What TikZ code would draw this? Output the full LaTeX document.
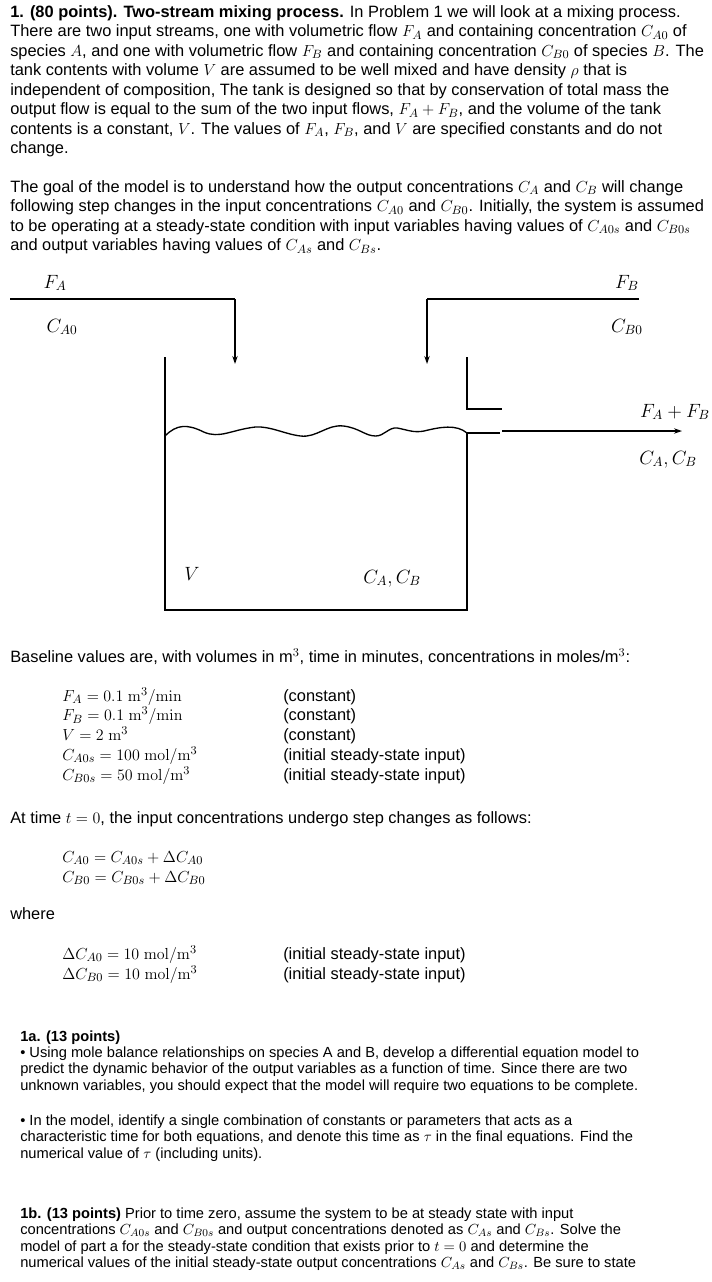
\documentclass[tikz,border=0pt]{standalone}
\usepackage[no-math]{fontspec}
\setmainfont{Liberation Sans}
\usetikzlibrary{arrows.meta}
\tikzset{
 txt/.style={anchor=base west,inner sep=0pt,font=\fontsize{12.3}{14}\selectfont},
 sm/.style={anchor=base west,inner sep=0pt,font=\fontsize{11}{13}\selectfont},
 lbl/.style={anchor=base,inner sep=0pt,font=\fontsize{14}{16}\selectfont},
 pipe/.style={line width=1pt},
 flow/.style={line width=1pt,-{Stealth[length=6pt,width=4pt]}}
}
\begin{document}
\begin{tikzpicture}[x=0.75pt,y=-0.75pt]
\useasboundingbox (0,0) rectangle (712,1282);
% paragraph 1
\node[txt] (p1) at (10,17) {\textbf{1. (80 points). Two-stream mixing process.} In Problem 1 we will look at a mixing process.};
\node[txt] (p2) at (10,36.5) {There are two input streams, one with volumetric flow $F_A$ and containing concentration $C_{A0}$ of};
\node[txt] (p3) at (10,56) {species $A$, and one with volumetric flow $F_B$ and containing concentration $C_{B0}$ of species $B$. The};
\node[txt] (p4) at (10,75.5) {tank contents with volume $V$ are assumed to be well mixed and have density $\rho$ that is};
\node[txt] (p5) at (10,95) {independent of composition, The tank is designed so that by conservation of total mass the};
\node[txt] (p6) at (10,114.5) {output flow is equal to the sum of the two input flows, $F_A+F_B$, and the volume of the tank};
\node[txt] (p7) at (10,134) {contents is a constant, $V$. The values of $F_A$, $F_B$, and $V$ are specified constants and do not};
\node[txt] (p8) at (10,153.5) {change.};
% paragraph 2
\node[txt] (q1) at (10,192) {The goal of the model is to understand how the output concentrations $C_A$ and $C_B$ will change};
\node[txt] (q2) at (10,211.5) {following step changes in the input concentrations $C_{A0}$ and $C_{B0}$. Initially, the system is assumed};
\node[txt] (q3) at (10,231) {to be operating at a steady-state condition with input variables having values of $C_{A0s}$ and $C_{B0s}$};
\node[txt] (q4) at (10,250.5) {and output variables having values of $C_{As}$ and $C_{Bs}$.};
% diagram
\coordinate (la) at (10,299);
\coordinate (lb) at (235,299);
\coordinate (lc) at (235,364);
\draw[pipe] (la) -- (lb);
\draw[flow] (lb) -- (lc);
\coordinate (ra) at (639,299);
\coordinate (rb) at (427,299);
\coordinate (rc) at (427,364);
\draw[pipe] (ra) -- (rb);
\draw[flow] (rb) -- (rc);
\coordinate (wl) at (165,357);
\coordinate (bl) at (165,610);
\coordinate (br) at (467,610);
\coordinate (wr) at (467,433);
\draw[pipe] (wl) -- (bl) -- (br) -- (wr) -- (500,433);
\coordinate (ut) at (467,357);
\draw[pipe] (ut) -- (467,409) -- (502,409);
\coordinate (oa) at (502,431);
\coordinate (ob) at (682,431);
\draw[flow] (oa) -- (ob);
\draw[line width=1pt] (165,436) .. controls (176.8,424) and (187.6,424) .. (203.7,432)
 .. controls (219.8,439) and (230.6,430) .. (255.3,427)
 .. controls (270.4,426) and (284.3,434) .. (300.5,436)
 .. controls (316.6,438) and (327.3,424) .. (343.5,426)
 .. controls (359.6,428) and (365,436) .. (375.7,436)
 .. controls (384.3,436) and (388.6,427) .. (397.2,428)
 .. controls (408,430) and (413.3,433) .. (424.1,431)
 .. controls (440.2,427) and (456.3,424) .. (467,433);
\node[lbl] (fa) at (55,288) {$F_A$};
\node[lbl] (ca0) at (62,332) {$C_{A0}$};
\node[lbl] (fb) at (627,288) {$F_B$};
\node[lbl] (cb0) at (627,332) {$C_{B0}$};
\node[lbl] (fab) at (675,417) {$F_A+F_B$};
\node[lbl] (cab) at (668,464) {$C_A, C_B$};
\node[lbl] (v) at (192,580) {$V$};
\node[lbl] (cin) at (392,583) {$C_A, C_B$};
% baseline values
\node[txt] (b0) at (10,662) {Baseline values are, with volumes in m$^3$, time in minutes, concentrations in moles/m$^3$:};
\node[txt] (e1) at (62,701) {$F_A = 0.1\ \mathrm{m^3/min}$};
\node[txt] (e2) at (62,720.5) {$F_B = 0.1\ \mathrm{m^3/min}$};
\node[txt] (e3) at (62,740) {$V = 2\ \mathrm{m^3}$};
\node[txt] (e4) at (62,760) {$C_{A0s} = 100\ \mathrm{mol/m^3}$};
\node[txt] (e5) at (62,780) {$C_{B0s} = 50\ \mathrm{mol/m^3}$};
\node[txt] (r1) at (283,701) {(constant)};
\node[txt] (r2) at (283,720.5) {(constant)};
\node[txt] (r3) at (283,740) {(constant)};
\node[txt] (r4) at (283,760) {(initial steady-state input)};
\node[txt] (r5) at (283,780) {(initial steady-state input)};
\node[txt] (t0) at (10,823) {At time $t = 0$, the input concentrations undergo step changes as follows:};
\node[txt] (s1) at (62,862) {$C_{A0} = C_{A0s} + \Delta C_{A0}$};
\node[txt] (s2) at (62,882) {$C_{B0} = C_{B0s} + \Delta C_{B0}$};
\node[txt] (wh) at (10,919) {where};
\node[txt] (d1) at (62,959) {$\Delta C_{A0} = 10\ \mathrm{mol/m^3}$};
\node[txt] (d2) at (62,979) {$\Delta C_{B0} = 10\ \mathrm{mol/m^3}$};
\node[txt] (dr1) at (283,959) {(initial steady-state input)};
\node[txt] (dr2) at (283,979) {(initial steady-state input)};
% 1a
\node[sm] (a0) at (20,1041) {\textbf{1a. (13 points)}};
\node[sm] (a1) at (20,1057) {\textbullet\ Using mole balance relationships on species A and B, develop a differential equation model to};
\node[sm] (a2) at (20,1073.5) {predict the dynamic behavior of the output variables as a function of time. Since there are two};
\node[sm] (a3) at (20,1090) {unknown variables, you should expect that the model will require two equations to be complete.};
\node[sm] (a4) at (20,1125) {\textbullet\ In the model, identify a single combination of constants or parameters that acts as a};
\node[sm] (a5) at (20,1141.5) {characteristic time for both equations, and denote this time as $\tau$ in the final equations. Find the};
\node[sm] (a6) at (20,1158) {numerical value of $\tau$ (including units).};
% 1b
\node[sm] (b1) at (20,1218) {\textbf{1b. (13 points)} Prior to time zero, assume the system to be at steady state with input};
\node[sm] (b2) at (20,1234.5) {concentrations $C_{A0s}$ and $C_{B0s}$ and output concentrations denoted as $C_{As}$ and $C_{Bs}$. Solve the};
\node[sm] (b3) at (20,1251) {model of part a for the steady-state condition that exists prior to $t = 0$ and determine the};
\node[sm] (b4) at (20,1267.5) {numerical values of the initial steady-state output concentrations $C_{As}$ and $C_{Bs}$. Be sure to state};
\end{tikzpicture}
\end{document}
